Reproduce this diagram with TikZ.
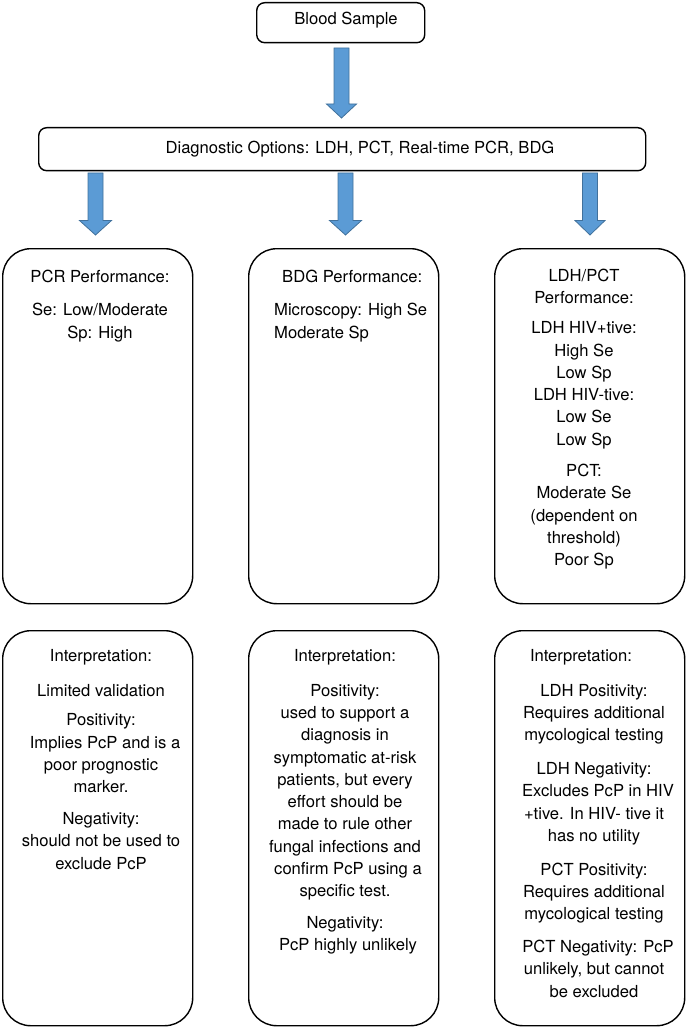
\documentclass[tikz,border=0pt]{standalone}
\usepackage{fontspec}
\setmainfont{TeX Gyre Heros}
\definecolor{arrowfill}{RGB}{91,155,213}
\definecolor{arrowline}{RGB}{65,113,156}
\tikzset{
  bigbox/.style={draw=black, line width=1.4pt, rounded corners=28pt, minimum width=190pt, inner sep=0pt, anchor=north west},
  smallbox/.style={draw=black, line width=1.4pt, rounded corners=8pt, inner sep=0pt, anchor=north west},
  txt/.style={font=\fontsize{16.6}{22.3}\selectfont, align=center, inner sep=0pt, anchor=north},
  blockarrow/.style={fill=arrowfill, draw=arrowline, line width=0.8pt, line join=miter}
}
% #1 centre x, #2 top y, #3 head start y, #4 tip y, #5 shaft half width, #6 head half width
\newcommand\blockdown[6]{%
  \draw[blockarrow] (#1-#5,#2) -- (#1+#5,#2) -- (#1+#5,#3) -- (#1+#6,#3) -- (#1,#4)
    -- (#1-#6,#3) -- (#1-#5,#3) -- cycle;}
\begin{document}
\begin{tikzpicture}[x=1pt,y=-1pt]
\useasboundingbox (0,0) rectangle (685,1027);

% top boxes
\node[smallbox, minimum width=168pt, minimum height=40pt] (blood) at (256,2) {};
\node[txt, anchor=base] (bloodt) at (346,25) {Blood Sample};
\node[smallbox, minimum width=607pt, minimum height=43pt] (diag) at (38,127) {};
\node[txt, anchor=base] (diagt) at (360,154) {Diagnostic Options: LDH, PCT, Real-time PCR, BDG};

% arrows
\blockdown{341.5}{48}{104}{118}{7.5}{15}
\blockdown{95.5}{173}{220.5}{235}{7.5}{16}
\blockdown{345.5}{173}{220.5}{235}{7.5}{16}
\blockdown{590}{173}{220.5}{235}{7.5}{15}

% performance row
\node[bigbox, minimum height=355pt] (pcr) at (2,248) {};
\node[bigbox, minimum height=355pt] (bdg) at (248,248) {};
\node[bigbox, minimum height=355pt] (ldh) at (494,248) {};

\node[txt] (pcrt) at (100,270) {PCR Performance:\\[11pt]Se: Low/Moderate\\Sp: High};
\node[txt, align=left, anchor=north west] (bdgt) at (274,270) {\hspace*{8pt}BDG Performance:\\[11pt]Microscopy: High Se\\Moderate Sp};
\node[txt] (ldht) at (584,269) {LDH/PCT\\Performance:\\[7.5pt]LDH HIV+tive:\\High Se\\Low Sp\\LDH HIV-tive:\\Low Se\\Low Sp\\[9pt]PCT:\\Moderate Se\\(dependent on\\threshold)\\Poor Sp};

% interpretation row
\node[bigbox, minimum height=395pt] (pcri) at (2,630) {};
\node[bigbox, minimum height=395pt] (bdgi) at (248,630) {};
\node[bigbox, minimum height=395pt] (ldhi) at (494,630) {};

\node[txt] (pcrit) at (101,649) {Interpretation:\\[12.5pt]Limited validation\\[7.5pt]Positivity:\\\hspace*{8pt}Implies PcP and is a\\poor prognostic\\marker.\\[9.5pt]Negativity:\\should not be used to\\exclude PcP};
\node[txt] (bdgit) at (345,649) {Interpretation:\\[12.5pt]Positivity:\\used to support a\\diagnosis in\\symptomatic at-risk\\patients, but every\\effort should be\\made to rule other\\fungal infections and\\\hspace*{6pt}confirm PcP using a\\specific test.\\[9.5pt]Negativity:\\\hspace*{6pt}PcP highly unlikely};
\node[txt] (ldhit) at (594,649) {Interpretation:\hspace*{26pt}\mbox{}\\[12.5pt]LDH Positivity:\\Requires additional\\mycological testing\\[11.5pt]LDH Negativity:\\\hspace*{8pt}Excludes PcP in HIV\\+tive. In HIV- tive it\\has no utility\\[11.5pt]PCT Positivity:\\Requires additional\\mycological testing\\[10.5pt]\hspace*{8pt}PCT Negativity: PcP\\unlikely, but cannot\\be excluded};
\end{tikzpicture}
\end{document}
